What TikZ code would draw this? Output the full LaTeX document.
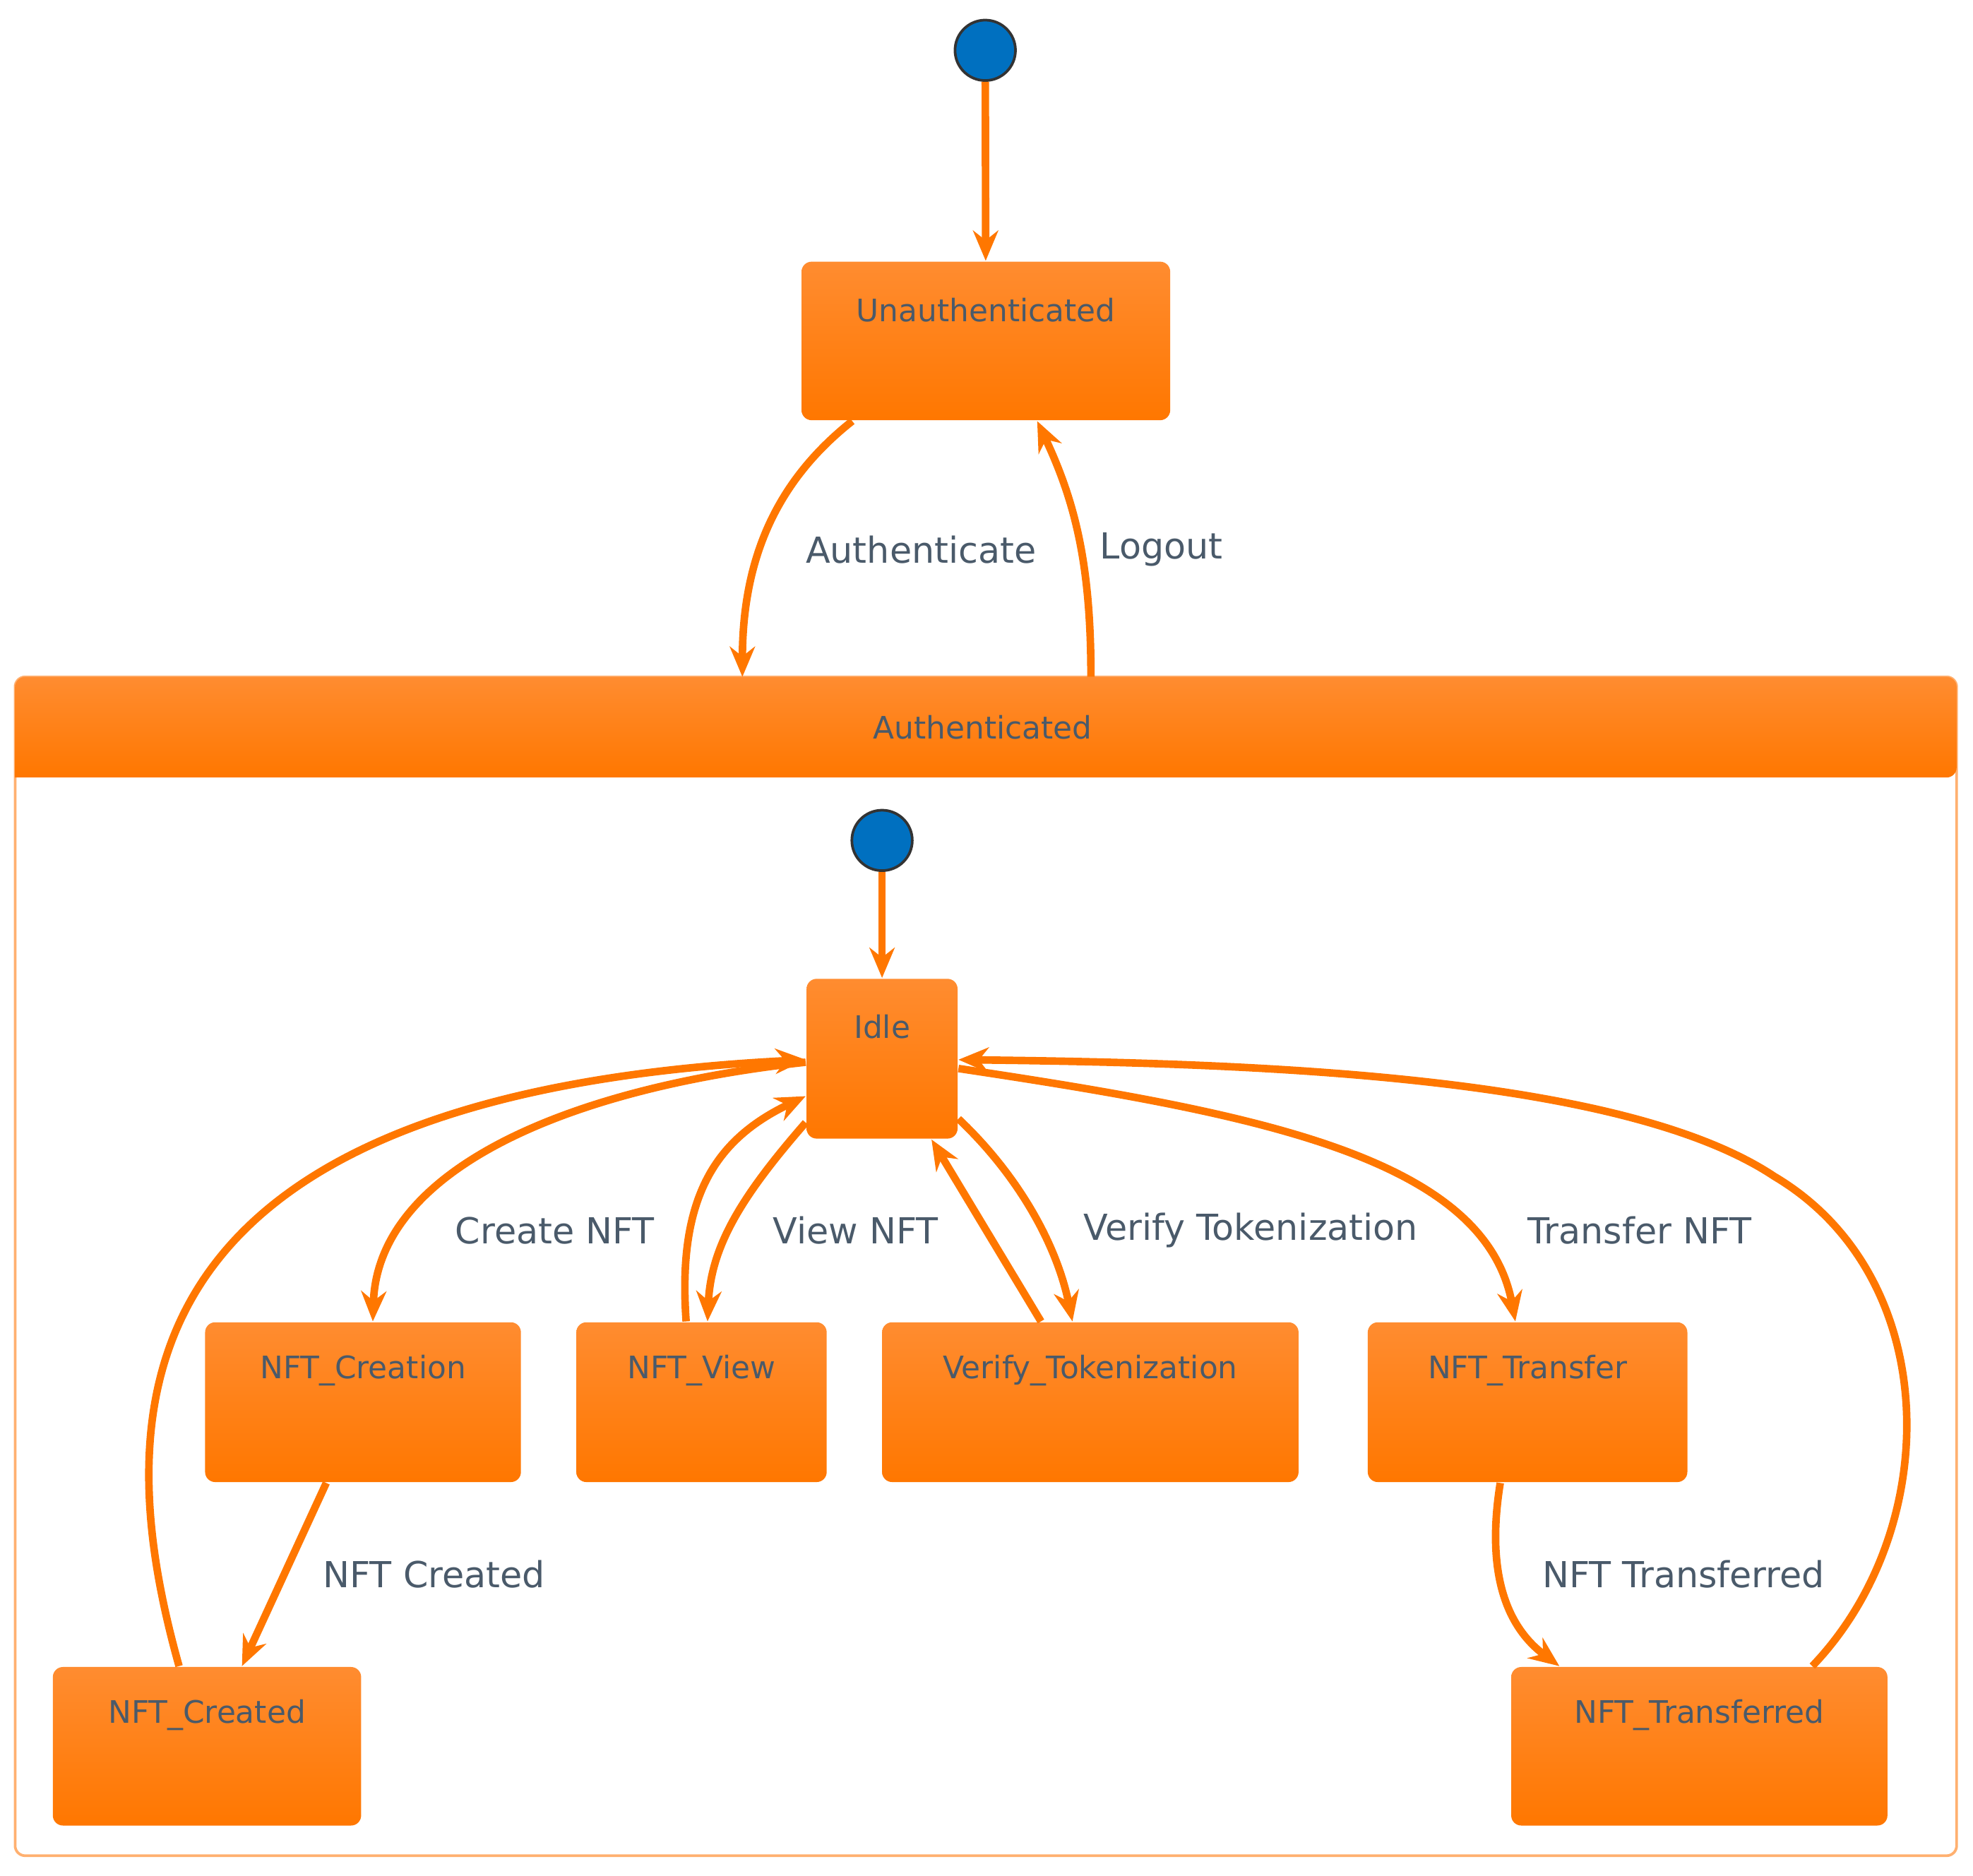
\documentclass[tikz,border=0pt]{standalone}
\usepackage{fontspec}
\setmainfont{DejaVu Sans}
\usetikzlibrary{arrows.meta,calc}
\definecolor{org}{HTML}{FF7700}
\definecolor{orgl}{HTML}{FF8C30}
\definecolor{txt}{HTML}{4A5A6A}
\definecolor{frame}{HTML}{FFB070}
\definecolor{initc}{HTML}{0070C0}
\begin{document}
\begin{tikzpicture}[x=0.01cm,y=-0.01cm,
  state/.style={rectangle,rounded corners=0.08cm,top color=orgl,bottom color=org,draw=none,inner sep=0pt},
  init/.style={circle,fill=initc,draw=black!80,line width=0.6pt,minimum size=0.48cm,inner sep=0pt},
  tr/.style={draw=org,line width=1.7pt,-{Stealth[length=0.24cm,width=0.2cm]}},
  el/.style={text=txt,font=\fontsize{8.1}{9}\selectfont},
  sl/.style={text=txt,font=\fontsize{7.0}{8}\selectfont}]
\useasboundingbox (0,0) rectangle (1568,1491);
% composite
\draw[frame,line width=0.6pt,rounded corners=0.08cm] (12,538) rectangle (1555,1475);
\shade[top color=orgl,bottom color=org,rounded corners=0.08cm] (12,618) -- (12,538) -- (1555,538) -- (1555,618) [sharp corners]-- cycle;
\node[sl] (authlbl) at (781,578) {Authenticated};
\coordinate (authtop) at (12,538);
% states
\newcommand\mkstate[6]{\node[state,minimum width={(#4-#2)*0.01cm},minimum height={(#5-#3)*0.01cm}] (#1) at ({(#2+#4)/2},{(#3+#5)/2}) {};
  \node[sl] at ($(#1.north)+(0,39)$) {#6};}
\mkstate{unauth}{637}{208}{930}{334}{Unauthenticated}
\mkstate{idle}{641}{778}{761}{905}{Idle}
\mkstate{creation}{163}{1051}{414}{1178}{NFT\_Creation}
\mkstate{view}{458}{1051}{657}{1178}{NFT\_View}
\mkstate{verify}{701}{1051}{1032}{1178}{Verify\_Tokenization}
\mkstate{transfer}{1087}{1051}{1341}{1178}{NFT\_Transfer}
\mkstate{created}{42}{1325}{287}{1451}{NFT\_Created}
\mkstate{transferred}{1201}{1325}{1500}{1451}{NFT\_Transferred}
\node[init] (i0) at (783,40) {};
\node[init] (i1) at (701,668) {};
% transitions
\draw[tr] (i0) -- (unauth);
\draw[tr] ($(unauth.south west)+(41,0)$) .. controls (620,380) and (590,440) .. ($(authtop)+(578,0)$);
\node[el] at (732,437) {Authenticate};
\draw[tr] ($(authtop)+(855,0)$) .. controls (867,450) and (855,400) .. ($(unauth.south west)+(188,0)$);
\node[el] at (923,437) {Logout};
\draw[tr] (i1) -- (idle);
\draw[tr] ($(idle.north west)+(0,67)$) .. controls (450,865) and (300,930) .. ($(creation.north west)+(134,0)$);
\node[el] at (441,978) {Create NFT};
\draw[tr] ($(created.north west)+(101,0)$) .. controls (85,1120) and (90,870) .. ($(idle.north west)+(0,65)$);
\draw[tr] ($(creation.south west)+(97,0)$) -- ($(created.north west)+(151,0)$);
\node[el] at (345,1251) {NFT Created};
\draw[tr] ($(view.north west)+(88,0)$) .. controls (538,950) and (570,905) .. ($(idle.north west)+(0,94)$);
\draw[tr] ($(idle.north west)+(0,115)$) .. controls (590,950) and (565,990) .. ($(view.north west)+(105,0)$);
\node[el] at (680,978) {View NFT};
\draw[tr] ($(verify.north west)+(127,0)$) -- ($(idle.south west)+(100,0)$);
\draw[tr] ($(idle.north east)+(0,112)$) .. controls (810,935) and (840,990) .. ($(verify.north west)+(152,0)$);
\node[el] at (994,978) {Verify Tokenization};
\draw[tr] ($(idle.north east)+(0,72)$) .. controls (1000,885) and (1180,920) .. ($(transfer.north west)+(118,0)$);
\node[el] at (1303,978) {Transfer NFT};
\draw[tr] ($(transferred.north west)+(240,0)$) .. controls (1545,1215) and (1545,1015) .. (1410,935) .. controls (1290,855) and (1000,845) .. ($(idle.north east)+(0,65)$);
\draw[tr] ($(transfer.south west)+(106,0)$) .. controls (1180,1255) and (1200,1295) .. ($(transferred.north west)+(39,0)$);
\node[el] at (1338,1251) {NFT Transferred};
\end{tikzpicture}
\end{document}
